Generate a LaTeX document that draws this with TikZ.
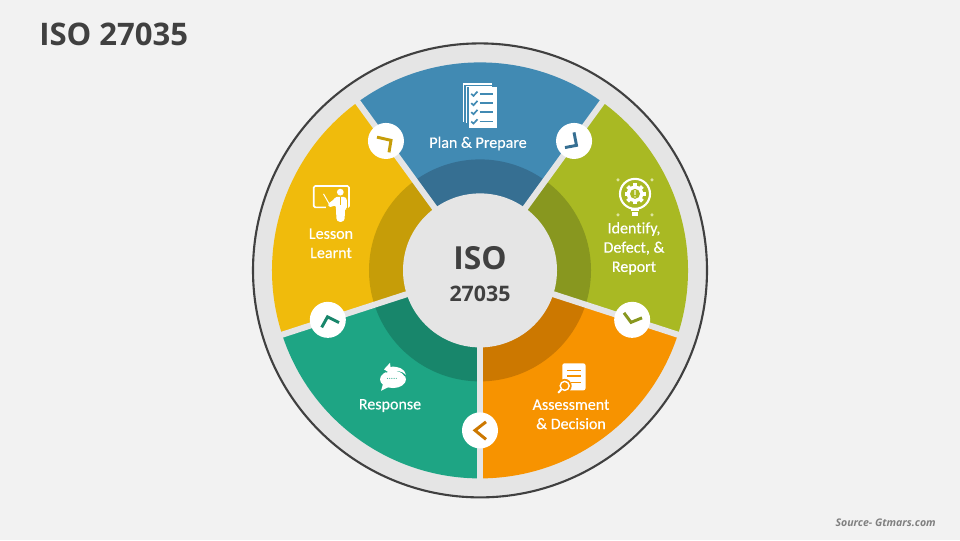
\documentclass[tikz,border=0pt]{standalone}
\usepackage{fontspec}
\setmainfont{Carlito}
\newfontfamily\headfont{Open Sans}
\newfontfamily\lblfont[FakeBold=0.35,Ligatures=NoCommon]{Carlito}
\usetikzlibrary{arrows.meta,positioning,calc}
\definecolor{pagebg}{HTML}{F2F2F2}
\definecolor{ringgray}{HTML}{E5E5E5}
\definecolor{inkdark}{HTML}{404040}
\definecolor{planblue}{HTML}{418AB3}
\definecolor{plandark}{HTML}{366F92}
\definecolor{idgreen}{HTML}{A9B923}
\definecolor{iddark}{HTML}{88971F}
\definecolor{assessorange}{HTML}{F79300}
\definecolor{assessdark}{HTML}{CC7800}
\definecolor{respteal}{HTML}{1EA584}
\definecolor{respdark}{HTML}{18866B}
\definecolor{lessonyellow}{HTML}{F0BB0C}
\definecolor{lessondark}{HTML}{C69D08}
\definecolor{dotgreen}{HTML}{DDE4A0}
\tikzset{
  >=Stealth,
  badge/.style={circle,fill=white,inner sep=0pt,minimum size=0.9cm},
  chev/.style={line width=2.1pt,line cap=butt,line join=miter},
  lbl/.style={font=\lblfont\fontsize{11.4}{13.7}\selectfont,text=white,align=center,inner sep=0pt},
  pxgrid/.style={y=-0.025cm,yshift=13.5cm}
}

\begin{document}
\begin{tikzpicture}[x=0.025cm,y=0.025cm]
    % Page
    \fill[pagebg] (0,0) rectangle (960,540);
    \useasboundingbox (0,0) rectangle (960,540);

    \begin{scope}[shift={(480,269.6)}]
        % Outer ring
        \draw[inkdark, fill=ringgray, line width=1.5pt] (0,0) circle (227);

        % Segments
        \foreach \ang/\col/\dark in {54/planblue/plandark, 342/idgreen/iddark, 270/assessorange/assessdark, 198/respteal/respdark, 126/lessonyellow/lessondark} {
            \fill[\col] (0,0) -- (\ang:208) arc[start angle=\ang, delta angle=72, radius=208] -- cycle;
            \fill[\dark] (0,0) -- (\ang:111) arc[start angle=\ang, delta angle=72, radius=111] -- cycle;
        }

        % Gaps
        \foreach \ang in {54, 126, 198, 270, 342} {
            \draw[ringgray, line width=4.3pt] (0,0) -- (\ang:212);
        }

        % Hub
        \fill[ringgray] (0,0) circle (77);

        % Badges
        \foreach \ang in {54, 342, 270, 198, 126} {
            \node[badge] (badge\ang) at (\ang:160) {};
        }
    \end{scope}

    \begin{scope}[pxgrid]
        % Chevrons
        \foreach \ax/\ay/\bx/\by/\cx/\cy/\dark in {
            574/132.5/576.5/145.5/565/147.7/plandark,
            624/313/631/322.5/642/318/iddark,
            486/422/475/430.5/486/439.5/assessdark,
            321.7/327.5/327.5/317/339/322.7/respdark,
            377/137.3/391/140.5/389/152.5/lessondark} {
            \draw[chev, \dark] (\ax,\ay) -- (\bx,\by) -- (\cx,\cy);
        }

        % Plan icon
        \draw[white, line width=1pt] (491.5,84) -- (463.5,84) -- (463.5,122);
        \fill[white] (466,86) rectangle (491.5,87.5);
        \fill[white] (465.5,86) rectangle (467,123);
        \fill[white] (468.5,87.5) rectangle (497,128);
        \foreach \y in {94, 103.3, 112.3, 121.7} {
            \draw[planblue, line width=1.2pt] (471.2,\y) -- (473.5,\y+2) -- (477.5,\y-2.3);
            \draw[planblue, line width=1.3pt] (479.7,\y) -- (493.3,\y);
        }

        % Gear icon
        \draw[white, line width=1.5pt] (635,194) circle (15);
        \foreach \t in {0,45,...,315} {
            \fill[white, shift={(635,194)}, rotate=\t] (-2,-10.5) rectangle (2,0);
        }
        \fill[white] (635,194) circle (8.3);
        \fill[idgreen] (635,194) circle (5);
        \fill[dotgreen] (634.2,190.5) rectangle (635.8,195);
        \fill[dotgreen] (635,197) circle (0.9);
        \fill[white] (631,208) rectangle (639,211);
        \fill[white] (632,212) rectangle (638,216);
        \foreach \px/\py in {618/180, 652/180, 618/215, 652/215} {
            \fill[dotgreen] (\px,\py) circle (1.7);
        }

        % Lesson icon
        \draw[white, line width=1.2pt, rounded corners=1pt] (313.8,186.2) rectangle (349,207.5);
        \fill[lessonyellow] (332,196) -- (347.8,196) -- (347.8,209) -- (326,209) -- (326,204) -- cycle;
        \draw[white, line width=0.7pt] (323.5,194) -- (329.5,204.5);
        \fill[white] (340.3,192.3) circle (3.4);
        \fill[white, rounded corners=1pt] (328,204) -- (334,199.5) -- (335.5,197) -- (345,197) -- (346.8,199) -- (346.8,209) -- (345,209) -- (344.6,220) -- (342.5,222) -- (338.5,222) -- (336.5,220) -- (335.8,205.5) -- (329,207.5) -- cycle;
        \draw[lessonyellow, line width=0.5pt] (340.5,197) -- (340.5,205);

        % Response icon
        \fill[white] (393,379.5) ellipse (13 and 8.7);
        \fill[white] (383,384) -- (381,391) -- (389,387) -- cycle;
        \draw[respteal, line width=1pt] (386,372) .. controls (393,369) and (402,369.5) .. (405,376);
        \fill[white] (384,369.5) -- (390,363) -- (390.5,367) .. controls (398,366) and (405,369) .. (406,375) .. controls (402,371) and (397,370.5) .. (391,372) -- (391,374) -- cycle;
        \foreach \px in {387.5,389.7,...,398} {
            \fill[respteal] (\px,378.5) circle (0.55);
        }

        % Assessment icon
        \fill[white, rounded corners=1.5pt] (562.3,363.5) rectangle (585.5,390.5);
        \foreach \px/\py in {567/370.7, 567/376.2, 571/382.7} {
            \draw[assessorange, line width=0.9pt] (\px,\py) -- (581,\py);
        }
        \fill[assessorange] (564.7,386) circle (7);
        \fill[assessorange] (558,386) rectangle (570,394);
        \draw[white, line width=1pt] (564.7,386) circle (4.5);
        \draw[white, line width=1.4pt] (561.4,389.5) -- (558.2,393);

        % Labels
        \node[lbl] (plan) at (478,143.7) {Plan \& Prepare};
        \node[lbl] (identify) at (634,248.5) {Identify,\\Defect, \&\\Report};
        \node[lbl] (assess) at (571,414.5) {Assessment\\\& Decision};
        \node[lbl] (response) at (390,405.7) {Response};
        \node[lbl] (lesson) at (331,243.5) {Lesson\\Learnt};

        % Hub text
        \node[font=\headfont\fontsize{22.6}{26}\selectfont\bfseries, text=inkdark, inner sep=0pt] (hubiso) at (480,258) {ISO};
        \node[font=\headfont\fontsize{15.2}{18}\selectfont\bfseries, text=inkdark, inner sep=0pt] (hubnum) at (480,294) {27035};

        % Title and source
        \node[font=\headfont\fontsize{22.1}{26}\selectfont\bfseries, text=inkdark, anchor=west, inner sep=0pt] (title) at (39,34.5) {ISO 27035};
        \node[font=\headfont\fontsize{7.5}{9}\selectfont\bfseries\itshape, text=gray, anchor=east, inner sep=0pt] (source) at (936,523) {Source- Gtmars.com};
    \end{scope}
\end{tikzpicture}
\end{document}
